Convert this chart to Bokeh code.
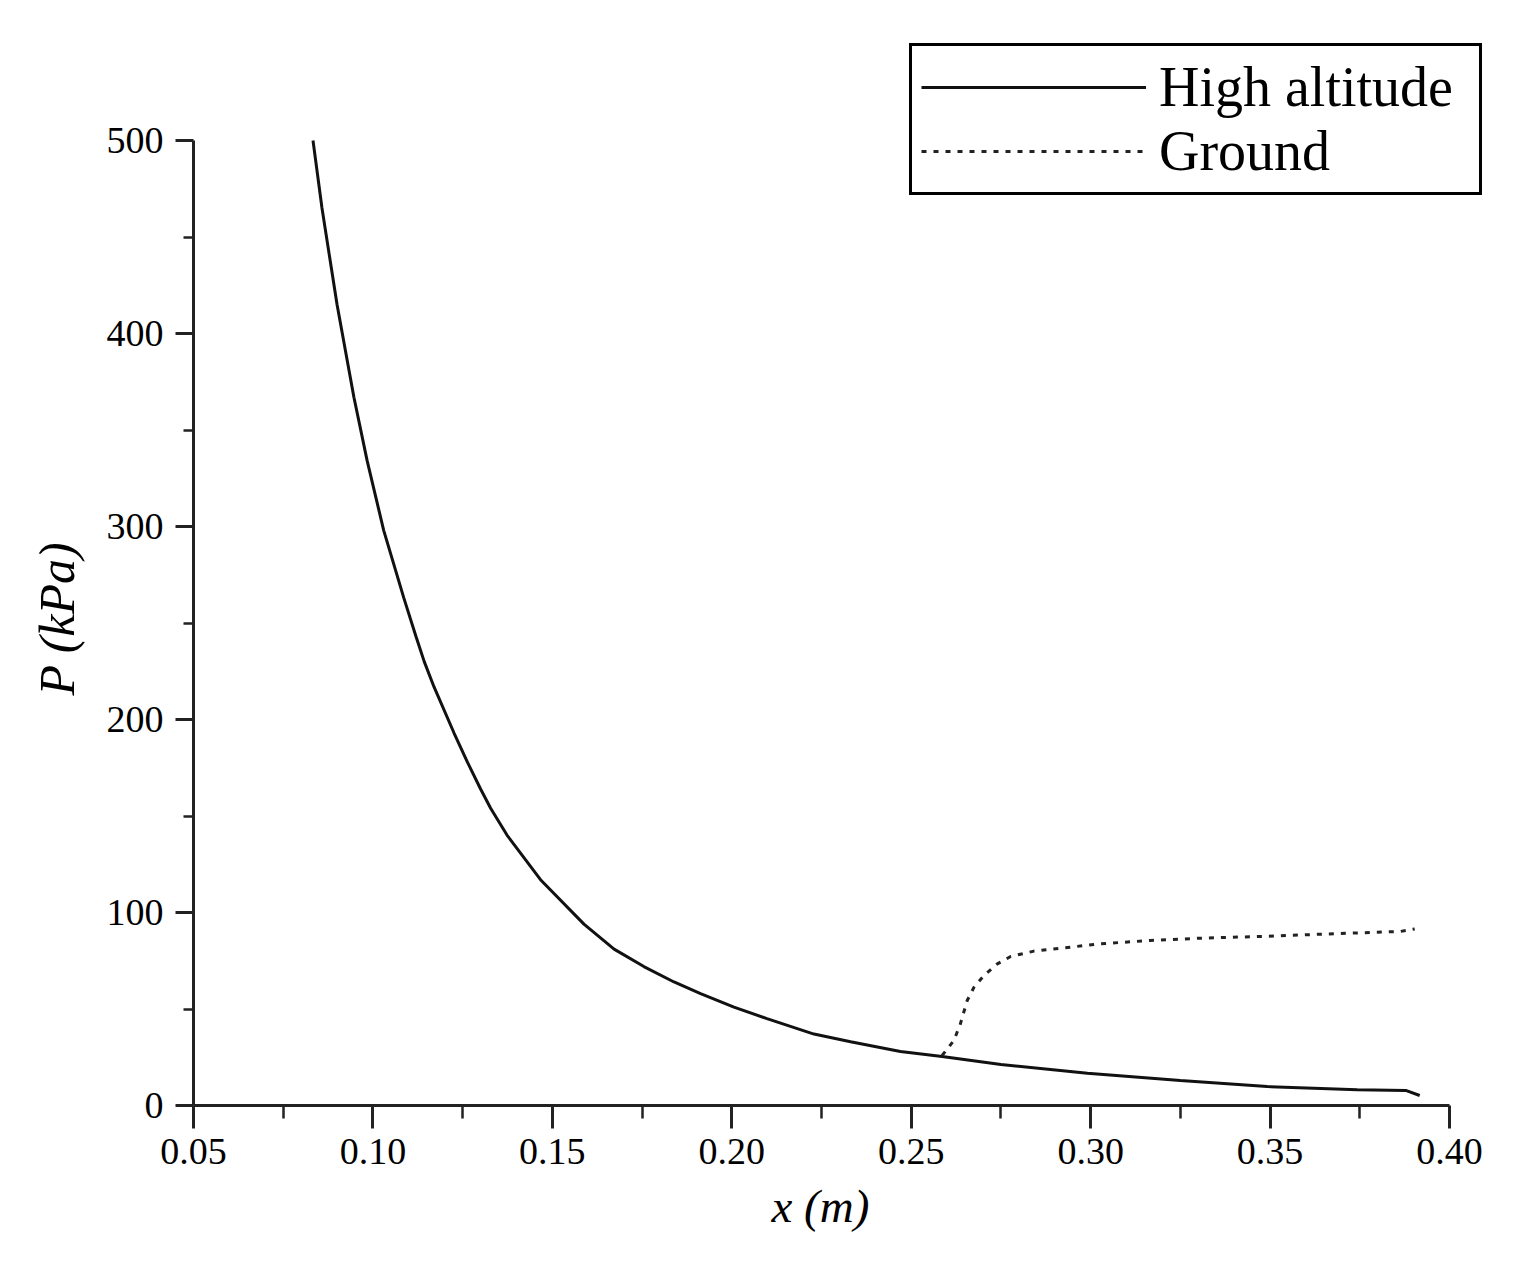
from bokeh.plotting import figure
from bokeh.models import FixedTicker, Legend, LegendItem, Range1d, Title
from bokeh.embed import file_html
from bokeh.resources import INLINE

# High altitude curve (x in m, P in kPa)
high_x = [0.0833, 0.0858, 0.0900, 0.0947, 0.0984, 0.1030, 0.1086, 0.1120, 0.1143,
          0.1170, 0.1226, 0.1263, 0.1300, 0.1328, 0.1374, 0.1467, 0.1588, 0.1672,
          0.1755, 0.1839, 0.1913, 0.2006, 0.2098, 0.2229, 0.2331, 0.2470, 0.2586,
          0.2750, 0.2991, 0.3250, 0.3492, 0.3743, 0.3878, 0.3917]
high_p = [500, 465, 415, 367, 334, 298, 263, 243, 230,
          217, 193, 178, 164, 154, 140, 117, 94, 81,
          72, 64, 58, 51, 45, 37, 33, 28, 25.4,
          21.2, 16.7, 13.0, 9.8, 8.1, 7.8, 5.2]

# Ground curve
ground_x = [0.2586, 0.2619, 0.2637, 0.2656, 0.2675, 0.2703, 0.2740, 0.2777, 0.2842,
            0.2917, 0.3028, 0.3167, 0.3306, 0.3492, 0.3678, 0.3864, 0.3903]
ground_p = [25.9, 33.7, 42.3, 54.4, 61.3, 67.4, 73.4, 77.2, 80.0,
            81.5, 83.8, 85.5, 86.7, 87.7, 89.0, 90.2, 91.5]

x_ticks = [0.05, 0.10, 0.15, 0.20, 0.25, 0.30, 0.35, 0.40]
x_minor = [0.075, 0.125, 0.175, 0.225, 0.275, 0.325, 0.375]
y_ticks = [0, 100, 200, 300, 400, 500]
y_minor = [50, 150, 250, 350, 450]
x_bounds = (0.05, 0.40)
y_bounds = (0, 500)

FONT = "Liberation Serif"

# frame extends above / right of the axes so the legend box (which sits
# partly outside the axes) is not clipped; axes are limited with bounds
AXW, AXH = 1256, 965
FW, FH = 1302, 1085
x_end = x_bounds[0] + (x_bounds[1] - x_bounds[0]) * FW / AXW
y_end = y_bounds[0] + (y_bounds[1] - y_bounds[0]) * FH / AXH

p = figure(frame_width=FW, frame_height=FH,
           min_border_left=193, min_border_top=20, min_border_right=12, min_border_bottom=145,
           x_range=Range1d(x_bounds[0], x_end), y_range=Range1d(y_bounds[0], y_end),
           output_backend="svg", toolbar_location=None)
p.outline_line_color = None
p.grid.visible = False
p.background_fill_color = "white"
p.border_fill_color = "white"

r_high = p.line(high_x, high_p, line_color="#111111", line_width=3)
r_ground = p.line(ground_x, ground_p, line_color="#222222", line_width=3, line_dash="5 7")

for ax in (p.xaxis[0], p.yaxis[0]):
    ax.axis_line_width = 3
    ax.axis_line_color = "#222222"
    ax.major_tick_line_width = 3
    ax.minor_tick_line_width = 2.5
    ax.major_tick_line_color = "#222222"
    ax.minor_tick_line_color = "#222222"
    ax.major_tick_in = 0
    ax.minor_tick_in = 0
    ax.major_label_text_font = FONT
    ax.major_label_text_font_size = "38px"
    ax.major_label_text_color = "black"

p.xaxis[0].bounds = x_bounds
p.xaxis[0].ticker = FixedTicker(ticks=x_ticks, minor_ticks=x_minor)
p.xaxis[0].major_label_overrides = {t: f"{t:.2f}" for t in x_ticks}
p.xaxis[0].major_tick_out = 23
p.xaxis[0].minor_tick_out = 13
p.xaxis[0].major_label_standoff = 10

p.yaxis[0].bounds = y_bounds
p.yaxis[0].ticker = FixedTicker(ticks=y_ticks, minor_ticks=y_minor)
p.yaxis[0].major_tick_out = 18
p.yaxis[0].minor_tick_out = 10
p.yaxis[0].major_label_standoff = 12

# axis titles, placed along the axes' extent (not the enlarged frame)
x_title = Title(text="x (m)", align="left", offset=578,
                text_font=FONT, text_font_style="italic", text_font_size="47px",
                text_color="black", standoff=23)
p.add_layout(x_title, "below")
y_title = Title(text="P (kPa)", align="left", offset=410,
                text_font=FONT, text_font_style="italic", text_font_size="50px",
                text_color="black", standoff=38)
p.add_layout(y_title, "left")

legend = Legend(items=[LegendItem(label="High altitude", renderers=[r_high]),
                       LegendItem(label="Ground", renderers=[r_ground])],
                location=(716, 910))
legend.label_text_font = FONT
legend.label_text_font_size = "56px"
legend.label_text_color = "black"
legend.glyph_width = 225
legend.glyph_height = 30
legend.label_height = 30
legend.label_width = 311
legend.label_standoff = 13
legend.padding = 9
legend.spacing = 0
legend.margin = 0
legend.border_line_color = "black"
legend.border_line_alpha = 1.0
legend.border_line_width = 3
legend.background_fill_color = "white"
legend.background_fill_alpha = 1.0
p.add_layout(legend, "center")

open("out.html", "w").write(file_html(p, INLINE))
